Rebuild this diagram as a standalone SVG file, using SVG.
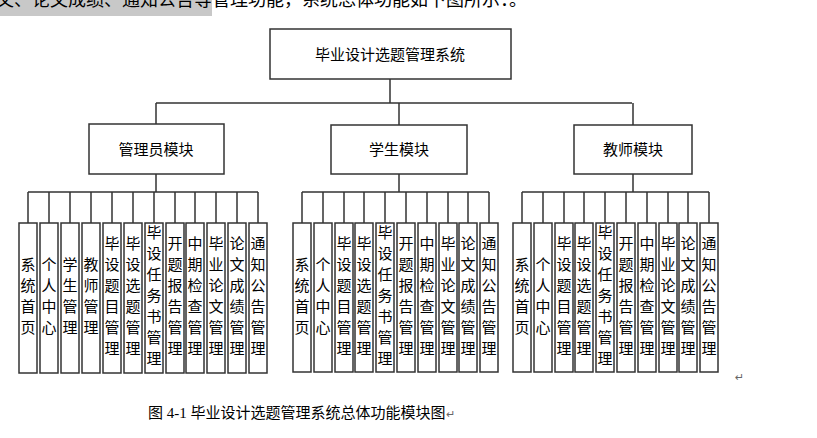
<svg xmlns="http://www.w3.org/2000/svg" width="817" height="438" viewBox="0 0 817 438">
<style>
.b{fill:#fff;stroke:#333;stroke-width:1.5}
.l{fill:none;stroke:#333;stroke-width:1.5}
.t{font-family:"Noto Sans CJK SC",sans-serif;font-size:15px;fill:#000;text-anchor:middle}
.v{font-family:"Noto Sans CJK SC",sans-serif;font-size:15px;fill:#000;text-anchor:middle}
</style>
<rect x="0" y="0" width="212" height="16" fill="#c8c8c8"/>
<text x="-4" y="6" font-family="Noto Sans CJK SC,sans-serif" font-size="18" fill="#000">文、论文成绩、通知公告等管理功能，系统总体功能如下图所示：。</text>
<g id="connectors">
<path class="l" d="M390 79V103M156 103H632M156 103V124M399 103V125M633 103V125"/>
<path class="l" d="M156 174V192M28 192H258M399 174V192M302 192H489M633 174V192M522 192H709"/>
<path class="l" d="M28 192V223M49 192V223M70 192V223M91 192V223M112 192V223M133 192V223M154 192V223M175 192V223M195 192V223M216 192V223M237 192V223M258 192V223"/>
<path class="l" d="M302 192V223M323 192V223M344 192V223M364 192V223M385 192V223M406 192V223M427 192V223M448 192V223M468 192V223M489 192V223"/>
<path class="l" d="M522 192V223M543 192V223M564 192V223M584 192V223M605 192V223M626 192V223M647 192V223M668 192V223M688 192V223M709 192V223"/>
</g>
<g id="root"><rect class="b" x="270" y="29" width="241" height="50"/><text class="t" x="390" y="60" font-size="17">毕业设计选题管理系统</text></g>
<g id="admin"><rect class="b" x="89" y="124" width="135" height="50"/><text class="t" x="156" y="155">管理员模块</text></g>
<g id="student"><rect class="b" x="331" y="125" width="136" height="49"/><text class="t" x="399" y="155">学生模块</text></g>
<g id="teacher"><rect class="b" x="574" y="125" width="118" height="49"/><text class="t" x="633" y="155">教师模块</text></g>
<g id="leafboxes">
<rect class="b" x="19" y="223" width="18" height="150"/><rect class="b" x="40" y="223" width="18" height="150"/><rect class="b" x="61" y="223" width="18" height="150"/><rect class="b" x="82" y="223" width="18" height="150"/><rect class="b" x="103" y="223" width="18" height="150"/><rect class="b" x="124" y="223" width="18" height="150"/><rect class="b" x="145" y="223" width="18" height="150"/><rect class="b" x="166" y="223" width="18" height="150"/><rect class="b" x="186" y="223" width="18" height="150"/><rect class="b" x="207" y="223" width="18" height="150"/><rect class="b" x="228" y="223" width="18" height="150"/><rect class="b" x="249" y="223" width="18" height="150"/>
<rect class="b" x="293" y="223" width="18" height="149"/><rect class="b" x="314" y="223" width="18" height="149"/><rect class="b" x="335" y="223" width="18" height="149"/><rect class="b" x="355" y="223" width="18" height="149"/><rect class="b" x="376" y="223" width="18" height="149"/><rect class="b" x="397" y="223" width="18" height="149"/><rect class="b" x="418" y="223" width="18" height="149"/><rect class="b" x="439" y="223" width="18" height="149"/><rect class="b" x="459" y="223" width="18" height="149"/><rect class="b" x="480" y="223" width="18" height="149"/>
<rect class="b" x="513" y="223" width="18" height="149"/><rect class="b" x="534" y="223" width="18" height="149"/><rect class="b" x="555" y="223" width="18" height="149"/><rect class="b" x="575" y="223" width="18" height="149"/><rect class="b" x="596" y="223" width="18" height="149"/><rect class="b" x="617" y="223" width="18" height="149"/><rect class="b" x="638" y="223" width="18" height="149"/><rect class="b" x="659" y="223" width="18" height="149"/><rect class="b" x="679" y="223" width="18" height="149"/><rect class="b" x="700" y="223" width="18" height="149"/>
</g>
<g id="leaftext" class="v">
<text x="28" y="270"><tspan x="28">系</tspan><tspan x="28" dy="21">统</tspan><tspan x="28" dy="21">首</tspan><tspan x="28" dy="21">页</tspan></text>
<text x="49" y="270"><tspan x="49">个</tspan><tspan x="49" dy="21">人</tspan><tspan x="49" dy="21">中</tspan><tspan x="49" dy="21">心</tspan></text>
<text x="70" y="270"><tspan x="70">学</tspan><tspan x="70" dy="21">生</tspan><tspan x="70" dy="21">管</tspan><tspan x="70" dy="21">理</tspan></text>
<text x="91" y="270"><tspan x="91">教</tspan><tspan x="91" dy="21">师</tspan><tspan x="91" dy="21">管</tspan><tspan x="91" dy="21">理</tspan></text>
<text x="112" y="249"><tspan x="112">毕</tspan><tspan x="112" dy="21">设</tspan><tspan x="112" dy="21">题</tspan><tspan x="112" dy="21">目</tspan><tspan x="112" dy="21">管</tspan><tspan x="112" dy="21">理</tspan></text>
<text x="133" y="249"><tspan x="133">毕</tspan><tspan x="133" dy="21">设</tspan><tspan x="133" dy="21">选</tspan><tspan x="133" dy="21">题</tspan><tspan x="133" dy="21">管</tspan><tspan x="133" dy="21">理</tspan></text>
<text x="154" y="238"><tspan x="154">毕</tspan><tspan x="154" dy="21">设</tspan><tspan x="154" dy="21">任</tspan><tspan x="154" dy="21">务</tspan><tspan x="154" dy="21">书</tspan><tspan x="154" dy="21">管</tspan><tspan x="154" dy="21">理</tspan></text>
<text x="175" y="249"><tspan x="175">开</tspan><tspan x="175" dy="21">题</tspan><tspan x="175" dy="21">报</tspan><tspan x="175" dy="21">告</tspan><tspan x="175" dy="21">管</tspan><tspan x="175" dy="21">理</tspan></text>
<text x="195" y="249"><tspan x="195">中</tspan><tspan x="195" dy="21">期</tspan><tspan x="195" dy="21">检</tspan><tspan x="195" dy="21">查</tspan><tspan x="195" dy="21">管</tspan><tspan x="195" dy="21">理</tspan></text>
<text x="216" y="249"><tspan x="216">毕</tspan><tspan x="216" dy="21">业</tspan><tspan x="216" dy="21">论</tspan><tspan x="216" dy="21">文</tspan><tspan x="216" dy="21">管</tspan><tspan x="216" dy="21">理</tspan></text>
<text x="237" y="249"><tspan x="237">论</tspan><tspan x="237" dy="21">文</tspan><tspan x="237" dy="21">成</tspan><tspan x="237" dy="21">绩</tspan><tspan x="237" dy="21">管</tspan><tspan x="237" dy="21">理</tspan></text>
<text x="258" y="249"><tspan x="258">通</tspan><tspan x="258" dy="21">知</tspan><tspan x="258" dy="21">公</tspan><tspan x="258" dy="21">告</tspan><tspan x="258" dy="21">管</tspan><tspan x="258" dy="21">理</tspan></text>

<text x="302" y="270"><tspan x="302">系</tspan><tspan x="302" dy="21">统</tspan><tspan x="302" dy="21">首</tspan><tspan x="302" dy="21">页</tspan></text>
<text x="323" y="270"><tspan x="323">个</tspan><tspan x="323" dy="21">人</tspan><tspan x="323" dy="21">中</tspan><tspan x="323" dy="21">心</tspan></text>
<text x="344" y="249"><tspan x="344">毕</tspan><tspan x="344" dy="21">设</tspan><tspan x="344" dy="21">题</tspan><tspan x="344" dy="21">目</tspan><tspan x="344" dy="21">管</tspan><tspan x="344" dy="21">理</tspan></text>
<text x="364" y="249"><tspan x="364">毕</tspan><tspan x="364" dy="21">设</tspan><tspan x="364" dy="21">选</tspan><tspan x="364" dy="21">题</tspan><tspan x="364" dy="21">管</tspan><tspan x="364" dy="21">理</tspan></text>
<text x="385" y="238"><tspan x="385">毕</tspan><tspan x="385" dy="21">设</tspan><tspan x="385" dy="21">任</tspan><tspan x="385" dy="21">务</tspan><tspan x="385" dy="21">书</tspan><tspan x="385" dy="21">管</tspan><tspan x="385" dy="21">理</tspan></text>
<text x="406" y="249"><tspan x="406">开</tspan><tspan x="406" dy="21">题</tspan><tspan x="406" dy="21">报</tspan><tspan x="406" dy="21">告</tspan><tspan x="406" dy="21">管</tspan><tspan x="406" dy="21">理</tspan></text>
<text x="427" y="249"><tspan x="427">中</tspan><tspan x="427" dy="21">期</tspan><tspan x="427" dy="21">检</tspan><tspan x="427" dy="21">查</tspan><tspan x="427" dy="21">管</tspan><tspan x="427" dy="21">理</tspan></text>
<text x="448" y="249"><tspan x="448">毕</tspan><tspan x="448" dy="21">业</tspan><tspan x="448" dy="21">论</tspan><tspan x="448" dy="21">文</tspan><tspan x="448" dy="21">管</tspan><tspan x="448" dy="21">理</tspan></text>
<text x="468" y="249"><tspan x="468">论</tspan><tspan x="468" dy="21">文</tspan><tspan x="468" dy="21">成</tspan><tspan x="468" dy="21">绩</tspan><tspan x="468" dy="21">管</tspan><tspan x="468" dy="21">理</tspan></text>
<text x="489" y="249"><tspan x="489">通</tspan><tspan x="489" dy="21">知</tspan><tspan x="489" dy="21">公</tspan><tspan x="489" dy="21">告</tspan><tspan x="489" dy="21">管</tspan><tspan x="489" dy="21">理</tspan></text>

<text x="522" y="270"><tspan x="522">系</tspan><tspan x="522" dy="21">统</tspan><tspan x="522" dy="21">首</tspan><tspan x="522" dy="21">页</tspan></text>
<text x="543" y="270"><tspan x="543">个</tspan><tspan x="543" dy="21">人</tspan><tspan x="543" dy="21">中</tspan><tspan x="543" dy="21">心</tspan></text>
<text x="564" y="249"><tspan x="564">毕</tspan><tspan x="564" dy="21">设</tspan><tspan x="564" dy="21">题</tspan><tspan x="564" dy="21">目</tspan><tspan x="564" dy="21">管</tspan><tspan x="564" dy="21">理</tspan></text>
<text x="584" y="249"><tspan x="584">毕</tspan><tspan x="584" dy="21">设</tspan><tspan x="584" dy="21">选</tspan><tspan x="584" dy="21">题</tspan><tspan x="584" dy="21">管</tspan><tspan x="584" dy="21">理</tspan></text>
<text x="605" y="238"><tspan x="605">毕</tspan><tspan x="605" dy="21">设</tspan><tspan x="605" dy="21">任</tspan><tspan x="605" dy="21">务</tspan><tspan x="605" dy="21">书</tspan><tspan x="605" dy="21">管</tspan><tspan x="605" dy="21">理</tspan></text>
<text x="626" y="249"><tspan x="626">开</tspan><tspan x="626" dy="21">题</tspan><tspan x="626" dy="21">报</tspan><tspan x="626" dy="21">告</tspan><tspan x="626" dy="21">管</tspan><tspan x="626" dy="21">理</tspan></text>
<text x="647" y="249"><tspan x="647">中</tspan><tspan x="647" dy="21">期</tspan><tspan x="647" dy="21">检</tspan><tspan x="647" dy="21">查</tspan><tspan x="647" dy="21">管</tspan><tspan x="647" dy="21">理</tspan></text>
<text x="668" y="249"><tspan x="668">毕</tspan><tspan x="668" dy="21">业</tspan><tspan x="668" dy="21">论</tspan><tspan x="668" dy="21">文</tspan><tspan x="668" dy="21">管</tspan><tspan x="668" dy="21">理</tspan></text>
<text x="688" y="249"><tspan x="688">论</tspan><tspan x="688" dy="21">文</tspan><tspan x="688" dy="21">成</tspan><tspan x="688" dy="21">绩</tspan><tspan x="688" dy="21">管</tspan><tspan x="688" dy="21">理</tspan></text>
<text x="709" y="249"><tspan x="709">通</tspan><tspan x="709" dy="21">知</tspan><tspan x="709" dy="21">公</tspan><tspan x="709" dy="21">告</tspan><tspan x="709" dy="21">管</tspan><tspan x="709" dy="21">理</tspan></text>
</g>
<text x="735" y="381" font-family="DejaVu Sans,sans-serif" font-size="11" fill="#666">↵</text>
<text x="148" y="418" font-family="Liberation Serif,Noto Sans CJK SC,serif" font-size="15" fill="#000">图 4-1 毕业设计选题管理系统总体功能模块图<tspan fill="#666" font-size="11">↵</tspan></text>
</svg>
